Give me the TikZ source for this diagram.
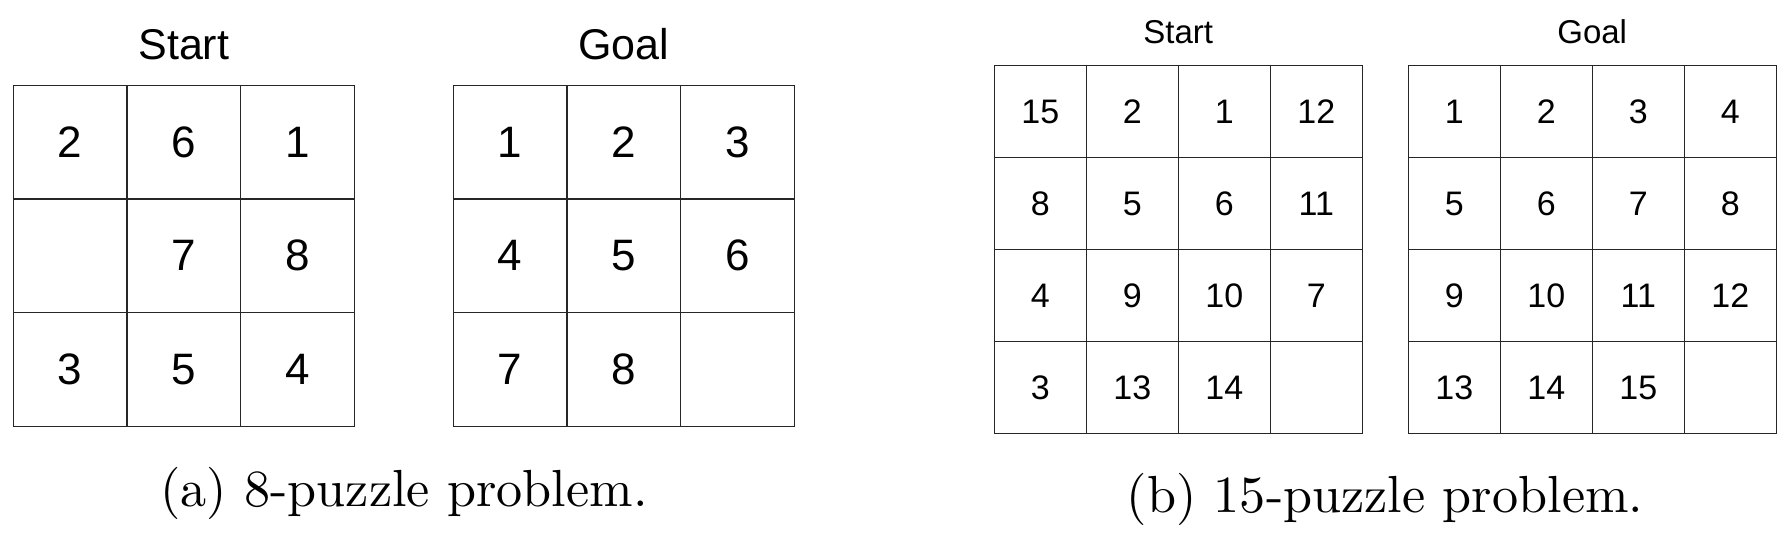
\documentclass[tikz,border=0pt]{standalone}
\usepackage{fontspec}
\newfontfamily\arialfont{Liberation Sans}
\newfontfamily\capfont{lmroman10-regular.otf}
\begin{document}
\begin{tikzpicture}[x=0.5pt,y=-0.5pt,
  cellA/.style={draw=black!85,line width=0.7pt,minimum size=56.83pt,inner sep=0pt,
    font=\arialfont\fontsize{22}{26}\selectfont},
  cellB/.style={draw=black!85,line width=0.7pt,minimum size=46pt,inner sep=0pt,
    font=\arialfont\fontsize{17}{20}\selectfont},
  titleA/.style={anchor=base,inner sep=0pt,font=\arialfont\fontsize{21.5}{26}\selectfont},
  titleB/.style={anchor=base,inner sep=0pt,font=\arialfont\fontsize{16.5}{20}\selectfont},
  capstyle/.style={anchor=base,inner sep=0pt,font=\capfont\fontsize{26.1}{32}\selectfont}]
\useasboundingbox (0,0) rectangle (1784,544);
% 8-puzzle start
\foreach \v [count=\i from 0] in {2,6,1,{},7,8,3,5,4}{
  \pgfmathtruncatemacro\r{div(\i,3)}
  \pgfmathtruncatemacro\c{mod(\i,3)}
  \node[cellA] (sa-\r-\c) at ({13.3+(\c+0.5)*113.67},{85.3+(\r+0.5)*113.67}) {\v};
}
% 8-puzzle goal
\foreach \v [count=\i from 0] in {1,2,3,4,5,6,7,8,{}}{
  \pgfmathtruncatemacro\r{div(\i,3)}
  \pgfmathtruncatemacro\c{mod(\i,3)}
  \node[cellA] (ga-\r-\c) at ({453.3+(\c+0.5)*113.67},{85.3+(\r+0.5)*113.67}) {\v};
}
\node[titleA] (sa-title) at (183.8,60) {Start};
\node[titleA] (ga-title) at (623.8,60) {Goal};
% 15-puzzle start
\foreach \v [count=\i from 0] in {15,2,1,12,8,5,6,11,4,9,10,7,3,13,14,{}}{
  \pgfmathtruncatemacro\r{div(\i,4)}
  \pgfmathtruncatemacro\c{mod(\i,4)}
  \node[cellB] (sb-\r-\c) at ({994.3+(\c+0.5)*92},{65.7+(\r+0.5)*92}) {\v};
}
% 15-puzzle goal
\foreach \v [count=\i from 0] in {1,2,3,4,5,6,7,8,9,10,11,12,13,14,15,{}}{
  \pgfmathtruncatemacro\r{div(\i,4)}
  \pgfmathtruncatemacro\c{mod(\i,4)}
  \node[cellB] (gb-\r-\c) at ({1408.3+(\c+0.5)*92},{65.7+(\r+0.5)*92}) {\v};
}
\node[titleB] (sb-title) at (1178.3,44) {Start};
\node[titleB] (gb-title) at (1592.2,44) {Goal};
% captions
\node[capstyle] (capa) at (404,507) {(a) 8-puzzle problem.};
\node[capstyle] (capb) at (1385,513) {(b) 15-puzzle problem.};
\end{tikzpicture}
\end{document}
